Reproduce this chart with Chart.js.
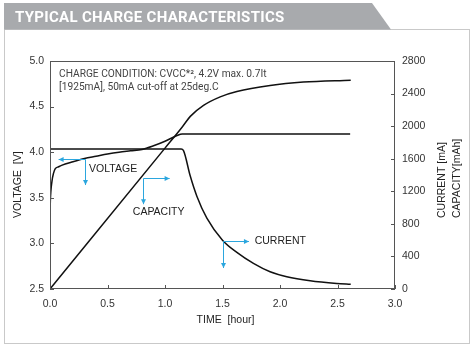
<!DOCTYPE html>
<html>
<head>
<meta charset="utf-8">
<script src="https://cdn.jsdelivr.net/npm/chart.js@4.4.0/dist/chart.umd.min.js"></script>
<style>
  html, body { margin: 0; padding: 0; background: #fff; }
</style>
</head>
<body>
<canvas id="chargeChart" width="474" height="347"></canvas>
<script>
// ticks
const timeTicks = [0, 0.5, 1.0, 1.5, 2.0, 2.5, 3.0];
const voltageTicks = [2.5, 3.0, 3.5, 4.0, 4.5, 5.0];
const currentTicks = [0, 400, 800, 1200, 1600, 2000, 2400, 2800];

// voltage [V] vs time [hour]
const voltageTime = [0, 0.003, 0.017, 0.031, 0.046, 0.075, 0.1, 0.2, 0.3, 0.4, 0.5, 0.6, 0.7, 0.8, 0.9, 1.0, 1.1, 1.15, 1.5, 2.0, 2.61];
const voltage = [3.33, 3.47, 3.68, 3.77, 3.82, 3.84, 3.855, 3.895, 3.93, 3.955, 3.98, 4.0, 4.015, 4.03, 4.07, 4.12, 4.18, 4.20, 4.20, 4.20, 4.20];

// current [mA] vs time
const currentTime = [0, 1.14, 1.161, 1.219, 1.277, 1.364, 1.50, 1.625, 1.769, 1.914, 2.059, 2.262, 2.493, 2.615];
const current = [1720, 1720, 1700, 1390, 1140, 870, 600, 450, 315, 212, 150, 100, 68, 58];

// capacity [mAh] vs time
const capacityTime = [0, 1.0, 1.15, 1.22, 1.335, 1.48, 1.625, 1.914, 2.203, 2.615];
const capacity = [0, 1730, 1990, 2120, 2255, 2360, 2425, 2499, 2541, 2565];

// blue pointer arrows (time, voltage units)
const pointerLabels = ['VOLTAGE', 'CAPACITY', 'CURRENT'];
const pointerCorner = [[0.30, 3.93], [0.81, 3.72], [1.50, 3.03]];
const pointerHorizEnd = [0.075, 1.04, 1.73];
const pointerVertEnd = [3.64, 3.43, 2.73];
const pointerText = [[0.34, 3.82], [0.72, 3.34], [1.78, 3.03]];

function toXY(xs, ys) {
    return xs.map((x, i) => ({ x: x, y: ys[i] }));
}

const AXIS_FONT = '10.5px "Liberation Sans", Arial, sans-serif';
const BLUE = '#2ba6de';

function arrowHead(ctx, x, y, dir) {
    // dir: 'left' | 'right' | 'down'
    ctx.beginPath();
    if (dir === 'left') {
        ctx.moveTo(x, y); ctx.lineTo(x + 5, y - 2.5); ctx.lineTo(x + 5, y + 2.5);
    } else if (dir === 'right') {
        ctx.moveTo(x, y); ctx.lineTo(x - 5, y - 2.5); ctx.lineTo(x - 5, y + 2.5);
    } else {
        ctx.moveTo(x, y); ctx.lineTo(x - 2.5, y - 5); ctx.lineTo(x + 2.5, y - 5);
    }
    ctx.closePath();
    ctx.fill();
}

const backgroundPlugin = {
    id: 'background',
    beforeDraw(chart) {
        const ctx = chart.ctx;
        ctx.save();
        ctx.fillStyle = '#fff';
        ctx.fillRect(0, 0, chart.width, chart.height);
        // outer frame
        ctx.strokeStyle = '#c9c9c9';
        ctx.lineWidth = 1;
        ctx.strokeRect(4.5, 29.5, 465, 314);
        // banner
        ctx.fillStyle = '#a8aaad';
        ctx.beginPath();
        ctx.moveTo(4, 3);
        ctx.lineTo(372, 3);
        ctx.lineTo(391, 29.5);
        ctx.lineTo(4, 29.5);
        ctx.closePath();
        ctx.fill();
        ctx.fillStyle = '#fff';
        ctx.font = 'bold 15px Roboto, sans-serif';
        ctx.letterSpacing = '0.3px';
        ctx.textBaseline = 'middle';
        ctx.textAlign = 'left';
        ctx.fillText('TYPICAL CHARGE CHARACTERISTICS', 15, 18);
        ctx.letterSpacing = '0px';
        ctx.restore();
    }
};

const decorPlugin = {
    id: 'decor',
    afterDraw(chart) {
        const ctx = chart.ctx;
        const a = chart.chartArea;
        const sx = chart.scales.x, sy = chart.scales.y, sy2 = chart.scales.y2;
        ctx.save();

        // plot frame
        ctx.strokeStyle = '#555';
        ctx.lineWidth = 1;
        ctx.strokeRect(a.left + 0.5, a.top + 0.5, a.right - a.left - 1, a.bottom - a.top - 1);

        // inner ticks
        ctx.beginPath();
        sx.ticks.forEach(t => {
            const px = Math.round(sx.getPixelForValue(t.value)) + 0.5;
            ctx.moveTo(px, a.bottom); ctx.lineTo(px, a.bottom - 4);
        });
        sy.ticks.forEach(t => {
            const py = Math.round(sy.getPixelForValue(t.value)) + 0.5;
            ctx.moveTo(a.left, py); ctx.lineTo(a.left + 4, py);
        });
        sy2.ticks.forEach(t => {
            const py = Math.round(sy2.getPixelForValue(t.value)) + 0.5;
            ctx.moveTo(a.right, py); ctx.lineTo(a.right - 4, py);
        });
        ctx.stroke();

        // condition note
        ctx.fillStyle = '#444';
        ctx.font = '10.2px Roboto, sans-serif';
        ctx.textAlign = 'left';
        ctx.textBaseline = 'middle';
        ctx.fillText('CHARGE CONDITION: CVCC*², 4.2V max. 0.7It', a.left + 9, a.top + 13.5);
        ctx.fillText('[1925mA], 50mA cut-off at 25deg.C', a.left + 9, a.top + 26.5);

        // pointer arrows
        ctx.strokeStyle = BLUE;
        ctx.fillStyle = BLUE;
        ctx.lineWidth = 1;
        pointerLabels.forEach((label, i) => {
            const cx = sx.getPixelForValue(pointerCorner[i][0]);
            const cy = Math.round(sy.getPixelForValue(pointerCorner[i][1])) + 0.5;
            const hx = sx.getPixelForValue(pointerHorizEnd[i]);
            const vy = sy.getPixelForValue(pointerVertEnd[i]);
            const cxr = Math.round(cx) + 0.5;
            ctx.beginPath();
            ctx.moveTo(hx, cy); ctx.lineTo(cxr, cy); ctx.lineTo(cxr, vy);
            ctx.stroke();
            arrowHead(ctx, hx, cy, hx < cx ? 'left' : 'right');
            arrowHead(ctx, cxr, vy, 'down');
        });

        // pointer labels
        ctx.fillStyle = '#222';
        ctx.font = AXIS_FONT;
        pointerLabels.forEach((label, i) => {
            ctx.fillText(label, sx.getPixelForValue(pointerText[i][0]), sy.getPixelForValue(pointerText[i][1]));
        });

        // axis titles
        ctx.fillStyle = '#222';
        ctx.textAlign = 'center';
        ctx.fillText('TIME  [hour]', (a.left + a.right) / 2 + 3, 320);
        const rot = (text, x) => {
            ctx.save();
            ctx.translate(x, 218);
            ctx.rotate(-Math.PI / 2);
            ctx.textAlign = 'left';
            ctx.fillText(text, 0, 0);
            ctx.restore();
        };
        rot('VOLTAGE  [V]', 18.5);
        rot('CURRENT [mA]', 442.5);
        rot('CAPACITY[mAh]', 457.5);

        ctx.restore();
    }
};

const lineStyle = {
    borderColor: '#111',
    borderWidth: 1.5,
    pointRadius: 0,
    fill: false,
    cubicInterpolationMode: 'monotone'
};

const dataToPlot = {
    datasets: [
        Object.assign({ label: 'VOLTAGE', data: toXY(voltageTime, voltage), yAxisID: 'y' }, lineStyle),
        Object.assign({ label: 'CURRENT', data: toXY(currentTime, current), yAxisID: 'y2' }, lineStyle),
        Object.assign({ label: 'CAPACITY', data: toXY(capacityTime, capacity), yAxisID: 'y2' }, lineStyle)
    ]
};

const tickFont = { family: '"Liberation Sans", Arial, sans-serif', size: 10.5 };
const noGrid = { display: false, drawTicks: false };

const options = {
    responsive: false,
    animation: false,
    layout: { padding: { top: 61, left: 0, right: 0, bottom: 0 } },
    plugins: {
        legend: { display: false },
        title: { display: false },
        tooltip: { enabled: false }
    },
    scales: {
        x: {
            type: 'linear',
            min: 0,
            max: 3,
            afterBuildTicks: scale => { scale.ticks = timeTicks.map(v => ({ value: v })); },
            afterFit: scale => { scale.height = 58; },
            grid: noGrid,
            border: { display: false },
            ticks: {
                font: tickFont,
                color: '#333',
                padding: 9,
                maxRotation: 0,
                callback: v => v.toFixed(1)
            }
        },
        y: {
            position: 'left',
            min: 2.5,
            max: 5,
            afterBuildTicks: scale => { scale.ticks = voltageTicks.map(v => ({ value: v })); },
            afterFit: scale => { scale.width = 50; },
            grid: noGrid,
            border: { display: false },
            ticks: { font: tickFont, color: '#333', padding: 6, callback: v => v.toFixed(1) }
        },
        y2: {
            position: 'right',
            min: 0,
            max: 2800,
            afterBuildTicks: scale => { scale.ticks = currentTicks.map(v => ({ value: v })); },
            afterFit: scale => { scale.width = 79; },
            grid: noGrid,
            border: { display: false },
            ticks: { font: tickFont, color: '#333', padding: 7, callback: v => String(v) }
        }
    }
};

const ctx = document.getElementById('chargeChart').getContext('2d');
new Chart(ctx, {
    type: 'line',
    data: dataToPlot,
    options: options,
    plugins: [backgroundPlugin, decorPlugin]
});
</script>
</body>
</html>
